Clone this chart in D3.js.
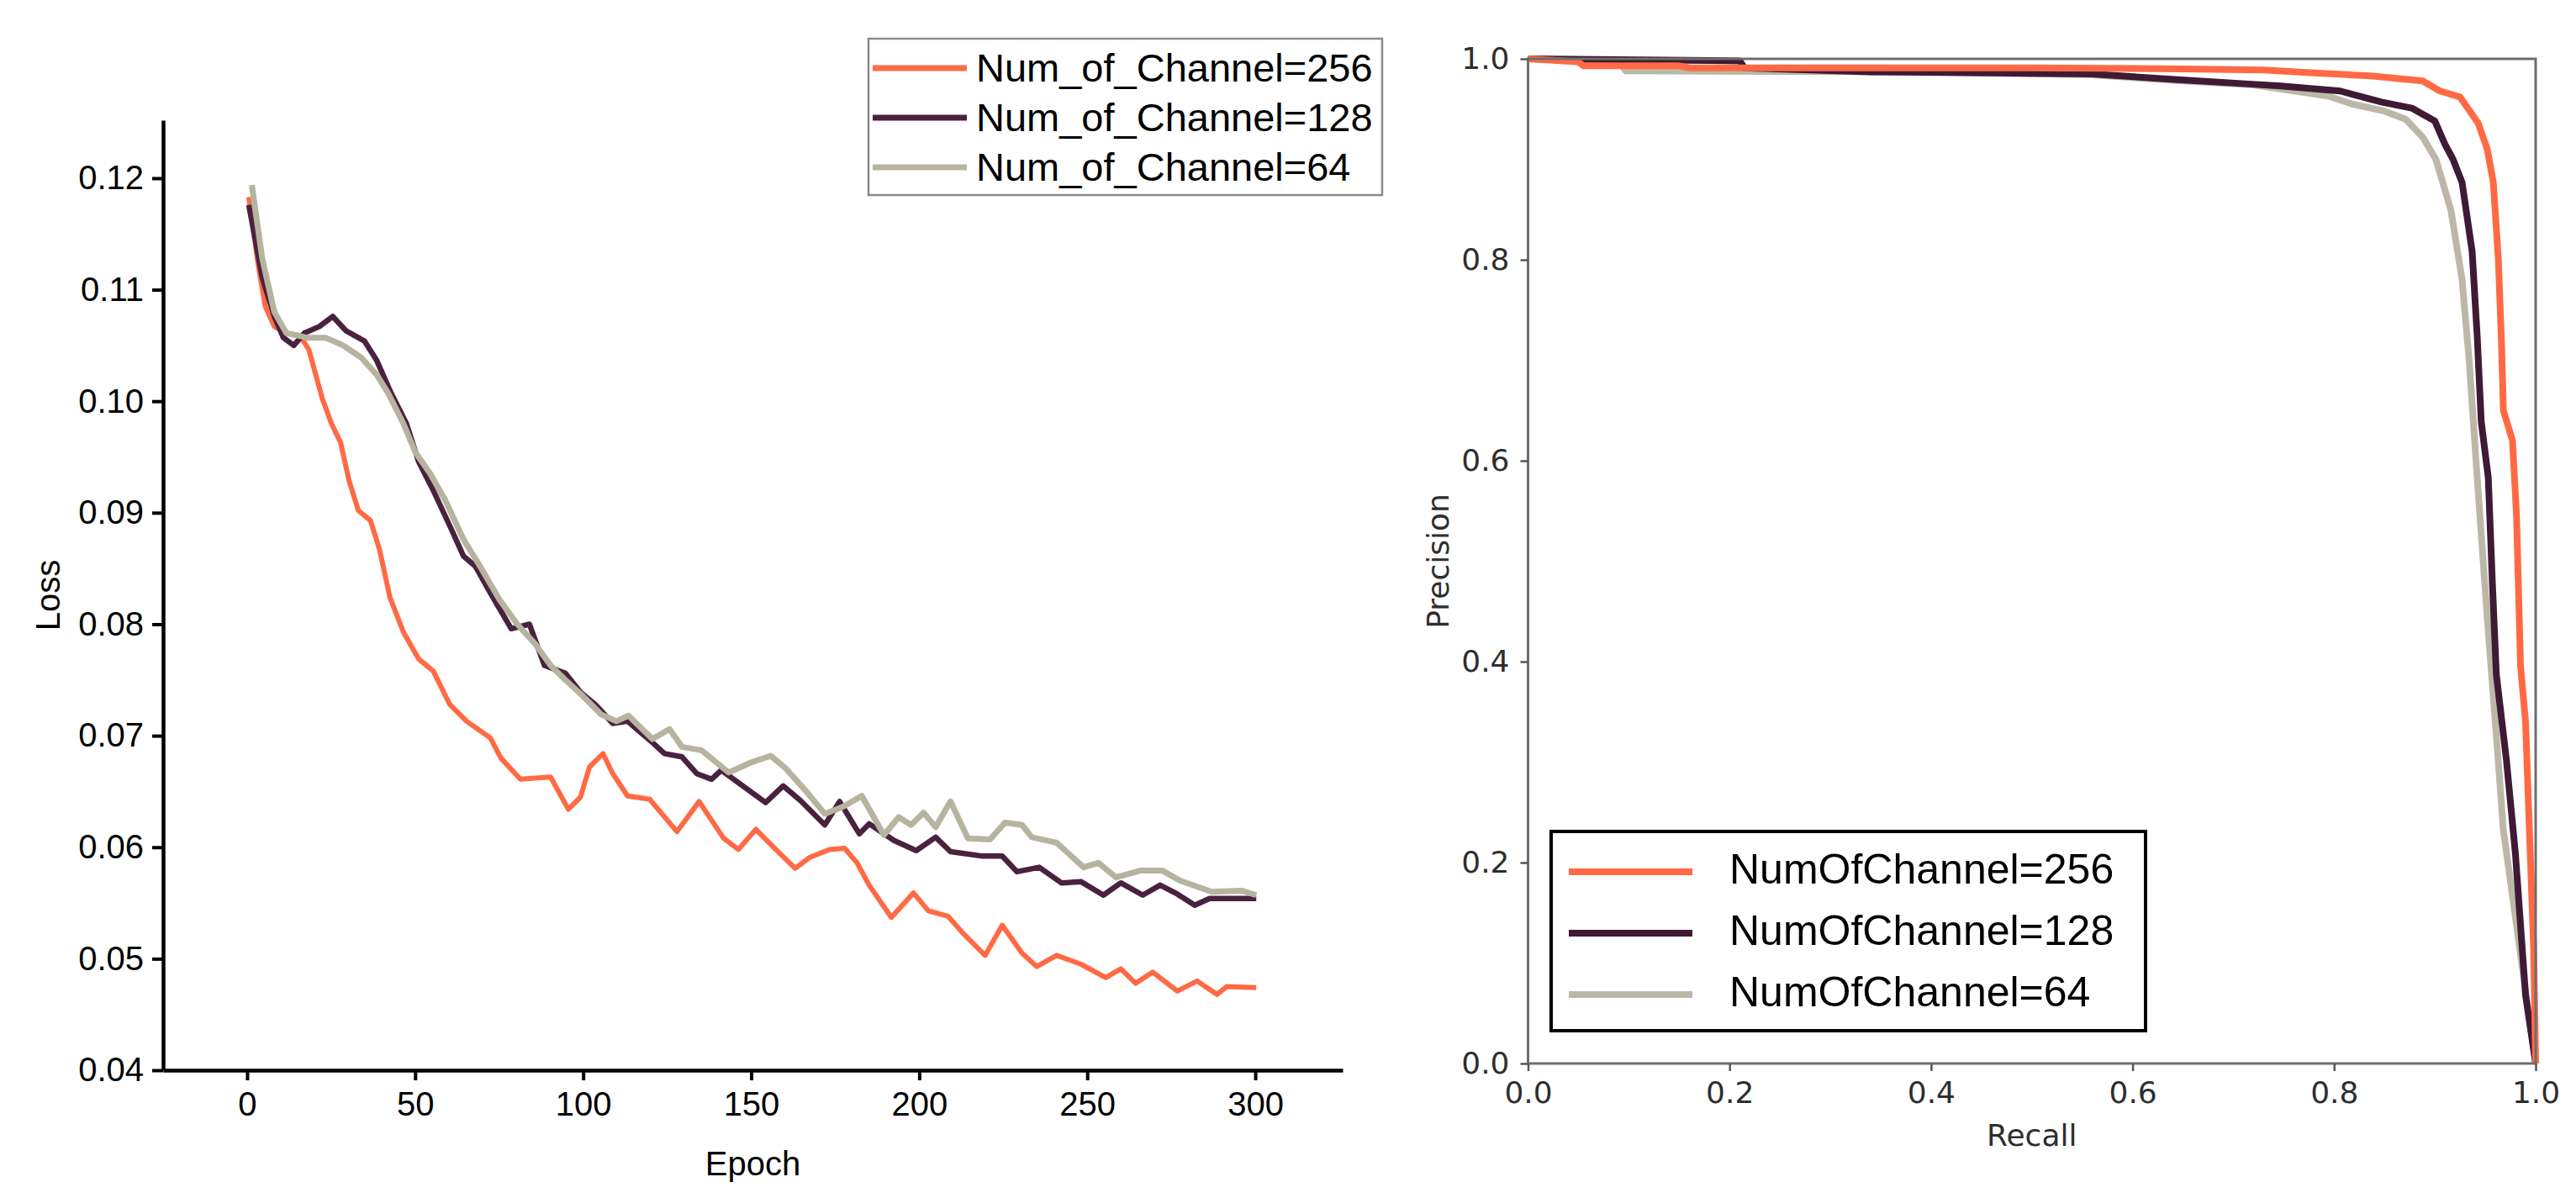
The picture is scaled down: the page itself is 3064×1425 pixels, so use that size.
<!DOCTYPE html>
<html>
<head>
<meta charset="utf-8">
<script src="https://cdn.jsdelivr.net/npm/d3@7"></script>
<style>
  body { margin: 0; background: #fff; }
  svg { display: block; }
</style>
</head>
<body>
<div id="chart"></div>
<script>
// ---- data ----

// left panel: training loss per epoch
var epochs256 = [0.5, 3.2, 5.4, 8.1, 11.7, 15.7, 18.4, 22.4, 25.1, 27.8, 30.4, 33.1, 36.7, 39.4, 42.5, 46.5, 51, 55.4, 60.3, 65.3, 72.4, 75.5, 81.3, 90.3, 95.6, 99.2, 101.9, 105.9, 108.8, 113.2, 119.8, 127.9, 134.5, 141.8, 146.2, 151.4, 157.3, 163.1, 167.5, 173.4, 177.8, 181.5, 185.1, 191.7, 198.3, 202.7, 208.6, 213, 219.6, 224.7, 230.6, 235, 240.9, 248.2, 255.5, 260, 264.4, 269.5, 276.8, 282.7, 288.6, 291.5, 300.3];
var loss256 = [0.1183, 0.1124, 0.1085, 0.1067, 0.1061, 0.1059, 0.1046, 0.1002, 0.0980, 0.0963, 0.0928, 0.0902, 0.0893, 0.0867, 0.0824, 0.0793, 0.0769, 0.0758, 0.0728, 0.0713, 0.0698, 0.0680, 0.0661, 0.0663, 0.0634, 0.0645, 0.0672, 0.0684, 0.0666, 0.0646, 0.0643, 0.0614, 0.0641, 0.0608, 0.0598, 0.0616, 0.0598, 0.0581, 0.0591, 0.0598, 0.0599, 0.0586, 0.0566, 0.0537, 0.0559, 0.0543, 0.0538, 0.0523, 0.0503, 0.0530, 0.0505, 0.0493, 0.0503, 0.0495, 0.0483, 0.0491, 0.0478, 0.0488, 0.0471, 0.0480, 0.0468, 0.0475, 0.0474];

var epochs128 = [0.5, 4.5, 8.1, 10.8, 13.9, 17, 21.5, 25.5, 29.5, 34.9, 38.5, 42.9, 47.4, 51, 55.4, 60.8, 64.4, 67.9, 72.4, 78.6, 84, 88.5, 94.7, 99.2, 103.6, 108.8, 113.2, 120.6, 124.2, 129.4, 133.8, 138.2, 141.1, 147, 154.3, 159.5, 164.6, 171.9, 176.3, 182.2, 185.1, 192.5, 199.1, 204.9, 209.3, 218.9, 224.7, 229.1, 235.7, 242.3, 248.2, 254.8, 260, 266.5, 271.7, 276.8, 282, 286.4, 300.3];
var loss128 = [0.1176, 0.1111, 0.1076, 0.1057, 0.1050, 0.1061, 0.1067, 0.1076, 0.1063, 0.1054, 0.1037, 0.1007, 0.0980, 0.0946, 0.0920, 0.0885, 0.0861, 0.0852, 0.0828, 0.0796, 0.0800, 0.0763, 0.0756, 0.0739, 0.0728, 0.0711, 0.0713, 0.0694, 0.0684, 0.0681, 0.0666, 0.0661, 0.0669, 0.0656, 0.0640, 0.0655, 0.0642, 0.0620, 0.0641, 0.0612, 0.0621, 0.0606, 0.0597, 0.0609, 0.0596, 0.0592, 0.0592, 0.0578, 0.0582, 0.0568, 0.0569, 0.0557, 0.0568, 0.0557, 0.0566, 0.0558, 0.0548, 0.0554, 0.0554];

var epochs64 = [1.4, 4.5, 8.1, 11.7, 17.9, 23.3, 28.6, 34, 38.5, 42, 46.5, 50.1, 54.5, 59, 64.4, 69.7, 75.1, 80.4, 85.8, 90.3, 94.7, 100.1, 105.4, 109.9, 113.5, 120.6, 125.7, 129.4, 135.2, 143.3, 149.9, 155.8, 160.2, 166.1, 171.9, 177.1, 182.9, 189.5, 193.9, 197.6, 201.3, 204.9, 209.3, 214.5, 221.1, 225.5, 230.6, 233.5, 240.9, 248.9, 253.3, 258.5, 265.8, 272.4, 277.6, 287.1, 295.9, 300.3];
var loss64 = [0.1194, 0.1128, 0.1080, 0.1061, 0.1057, 0.1057, 0.1050, 0.1039, 0.1024, 0.1007, 0.0980, 0.0954, 0.0935, 0.0911, 0.0876, 0.0850, 0.0822, 0.0800, 0.0782, 0.0763, 0.0750, 0.0735, 0.0719, 0.0713, 0.0718, 0.0697, 0.0706, 0.0690, 0.0687, 0.0667, 0.0676, 0.0682, 0.0671, 0.0651, 0.0630, 0.0636, 0.0646, 0.0611, 0.0627, 0.0620, 0.0631, 0.0618, 0.0641, 0.0608, 0.0607, 0.0622, 0.0620, 0.0609, 0.0604, 0.0582, 0.0586, 0.0573, 0.0579, 0.0579, 0.0570, 0.0560, 0.0561, 0.0557];

var lossLabels = ["Num_of_Channel=256", "Num_of_Channel=128", "Num_of_Channel=64"];
var epochTicks = [0, 50, 100, 150, 200, 250, 300];
var lossTicks = [0.04, 0.05, 0.06, 0.07, 0.08, 0.09, 0.10, 0.11, 0.12];

// right panel: precision / recall curves
var recall256 = [0, 0.05, 0.055, 0.15, 0.16, 0.5, 0.65, 0.73, 0.78, 0.836, 0.888, 0.905, 0.925, 0.943, 0.952, 0.958, 0.963, 0.966, 0.968, 0.977, 0.981, 0.985, 0.990, 0.993, 0.998, 1.0];
var precision256 = [1.0, 0.997, 0.993, 0.993, 0.991, 0.991, 0.990, 0.989, 0.986, 0.983, 0.978, 0.968, 0.962, 0.936, 0.910, 0.877, 0.80, 0.72, 0.65, 0.62, 0.546, 0.396, 0.340, 0.255, 0.115, 0.0];

var recall128 = [0, 0.21, 0.215, 0.34, 0.56, 0.648, 0.715, 0.747, 0.806, 0.847, 0.877, 0.90, 0.910, 0.918, 0.927, 0.937, 0.942, 0.946, 0.953, 0.957, 0.961, 0.971, 0.980, 0.990, 1.0];
var precision128 = [1.0, 0.998, 0.991, 0.987, 0.985, 0.979, 0.975, 0.973, 0.968, 0.957, 0.951, 0.938, 0.915, 0.900, 0.877, 0.808, 0.724, 0.639, 0.583, 0.480, 0.387, 0.302, 0.208, 0.068, 0.0];

var recall64 = [0, 0.09, 0.097, 0.4, 0.56, 0.65, 0.72, 0.794, 0.818, 0.85, 0.871, 0.888, 0.901, 0.916, 0.927, 0.934, 0.942, 0.952, 0.961, 0.968, 1.0];
var precision64 = [1.0, 0.998, 0.988, 0.987, 0.984, 0.978, 0.974, 0.963, 0.955, 0.948, 0.940, 0.922, 0.900, 0.849, 0.780, 0.700, 0.583, 0.443, 0.326, 0.232, 0.0];

var prLabels = ["NumOfChannel=256", "NumOfChannel=128", "NumOfChannel=64"];
var prTicks = [0, 0.2, 0.4, 0.6, 0.8, 1.0];

// ---- page ----
var svgWidth = 3064;
var svgHeight = 1425;

var svg = d3.select("#chart")
    .append("svg")
    .attr("width", svgWidth)
    .attr("height", svgHeight);

var lossColors = ["#ff6a45", "#4a213f", "#b6b39f"];
var prColors = ["#ff6a45", "#3f1a35", "#bdb7a7"];

// ================= left: loss curves =================
var left = { x0: 194, x1: 1597, y0: 143, y1: 1273 };

var xEpoch = d3.scaleLinear().domain([-25, 326]).range([left.x0, left.x1]);
var yLoss = d3.scaleLinear().domain([0.04, 0.1252]).range([left.y1, left.y0]);

var lossSeries = [
    { x: epochs256, y: loss256, width: 6 },
    { x: epochs128, y: loss128, width: 6.5 },
    { x: epochs64, y: loss64, width: 7 }
];

var lossLine = d3.line()
    .x(d => xEpoch(d[0]))
    .y(d => yLoss(d[1]));

lossSeries.forEach(function(s, i) {
    svg.append("path")
        .datum(d3.zip(s.x, s.y))
        .attr("d", lossLine)
        .attr("fill", "none")
        .attr("stroke", lossColors[i])
        .attr("stroke-width", s.width)
        .attr("stroke-linejoin", "round");
});

var epochAxis = svg.append("g")
    .attr("transform", `translate(0, ${left.y1})`)
    .call(d3.axisBottom(xEpoch).tickValues(epochTicks).tickSize(12).tickSizeOuter(0).tickPadding(14));

var lossAxis = svg.append("g")
    .attr("transform", `translate(${left.x0}, 0)`)
    .call(d3.axisLeft(yLoss).tickValues(lossTicks).tickFormat(d3.format(".2f")).tickSize(13).tickSizeOuter(0).tickPadding(10));

[epochAxis, lossAxis].forEach(function(g) {
    g.select(".domain").attr("stroke", "#000").attr("stroke-width", 4.5);
    g.selectAll(".tick line").attr("stroke", "#000").attr("stroke-width", 4);
    g.selectAll(".tick text")
        .attr("fill", "#000")
        .style("font-family", "'Liberation Sans', Arial, sans-serif")
        .style("font-size", "40px");
});

svg.append("text")
    .attr("x", (left.x0 + left.x1) / 2)
    .attr("y", 1398)
    .attr("text-anchor", "middle")
    .style("font-family", "'Liberation Sans', Arial, sans-serif")
    .style("font-size", "40px")
    .text("Epoch");

svg.append("text")
    .attr("transform", `translate(71, ${(left.y0 + left.y1) / 2}) rotate(-90)`)
    .attr("text-anchor", "middle")
    .style("font-family", "'Liberation Sans', Arial, sans-serif")
    .style("font-size", "40px")
    .text("Loss");

// legend
var lossLegend = svg.append("g");
lossLegend.append("rect")
    .attr("x", 1033).attr("y", 46)
    .attr("width", 611).attr("height", 186)
    .attr("fill", "#fff")
    .attr("stroke", "#8a8a8a")
    .attr("stroke-width", 2.5);

lossLabels.forEach(function(label, i) {
    var yy = 81 + i * 59;
    lossLegend.append("line")
        .attr("x1", 1038).attr("x2", 1150)
        .attr("y1", yy).attr("y2", yy)
        .attr("stroke", lossColors[i])
        .attr("stroke-width", 7);
    lossLegend.append("text")
        .attr("x", 1161)
        .attr("y", yy + 16)
        .style("font-family", "'Liberation Sans', Arial, sans-serif")
        .style("font-size", "47px")
        .text(label);
});

// ================= right: precision / recall =================
var right = { x0: 1817.5, x1: 3016, y0: 70, y1: 1265 };

var xRecall = d3.scaleLinear().domain([0, 1]).range([right.x0, right.x1]);
var yPrecision = d3.scaleLinear().domain([0, 1]).range([right.y1, right.y0]);

var prSeries = [
    { x: recall256, y: precision256 },
    { x: recall128, y: precision128 },
    { x: recall64, y: precision64 }
];

var prLine = d3.line()
    .x(d => xRecall(d[0]))
    .y(d => yPrecision(d[1]));

// gray first, red last (red sits on top in the picture)
[2, 1, 0].forEach(function(i) {
    svg.append("path")
        .datum(d3.zip(prSeries[i].x, prSeries[i].y))
        .attr("d", prLine)
        .attr("fill", "none")
        .attr("stroke", prColors[i])
        .attr("stroke-width", 8)
        .attr("stroke-linejoin", "round");
});

// frame
svg.append("rect")
    .attr("x", right.x0).attr("y", right.y0)
    .attr("width", right.x1 - right.x0)
    .attr("height", right.y1 - right.y0)
    .attr("fill", "none")
    .attr("stroke", "#6e6e6e")
    .attr("stroke-width", 3);

var recallAxis = svg.append("g")
    .attr("transform", `translate(0, ${right.y1})`)
    .call(d3.axisBottom(xRecall).tickValues(prTicks).tickFormat(d3.format(".1f")).tickSize(9).tickSizeOuter(0).tickPadding(12));

var precisionAxis = svg.append("g")
    .attr("transform", `translate(${right.x0}, 0)`)
    .call(d3.axisLeft(yPrecision).tickValues(prTicks).tickFormat(d3.format(".1f")).tickSize(9).tickSizeOuter(0).tickPadding(13));

[recallAxis, precisionAxis].forEach(function(g) {
    g.select(".domain").remove();
    g.selectAll(".tick line").attr("stroke", "#555").attr("stroke-width", 2.5);
    g.selectAll(".tick text")
        .attr("fill", "#2e2e2e")
        .style("font-family", "'DejaVu Sans', sans-serif")
        .style("font-size", "36px");
});

svg.append("text")
    .attr("x", (right.x0 + right.x1) / 2)
    .attr("y", 1363)
    .attr("text-anchor", "middle")
    .attr("fill", "#2e2e2e")
    .style("font-family", "'DejaVu Sans', sans-serif")
    .style("font-size", "36px")
    .text("Recall");

svg.append("text")
    .attr("transform", `translate(1723, ${(right.y0 + right.y1) / 2}) rotate(-90)`)
    .attr("text-anchor", "middle")
    .attr("fill", "#2e2e2e")
    .style("font-family", "'DejaVu Sans', sans-serif")
    .style("font-size", "36px")
    .text("Precision");

// legend
var prLegend = svg.append("g");
prLegend.append("rect")
    .attr("x", 1845).attr("y", 989)
    .attr("width", 707).attr("height", 237)
    .attr("fill", "#fff")
    .attr("stroke", "#000")
    .attr("stroke-width", 4);

prLabels.forEach(function(label, i) {
    var yy = 1037 + i * 73;
    prLegend.append("line")
        .attr("x1", 1866).attr("x2", 2013)
        .attr("y1", yy).attr("y2", yy)
        .attr("stroke", prColors[i])
        .attr("stroke-width", 8);
    prLegend.append("text")
        .attr("x", 2057)
        .attr("y", yy + 14)
        .style("font-family", "'Liberation Sans', Arial, sans-serif")
        .style("font-size", "50px")
        .text(label);
});
</script>
</body>
</html>
